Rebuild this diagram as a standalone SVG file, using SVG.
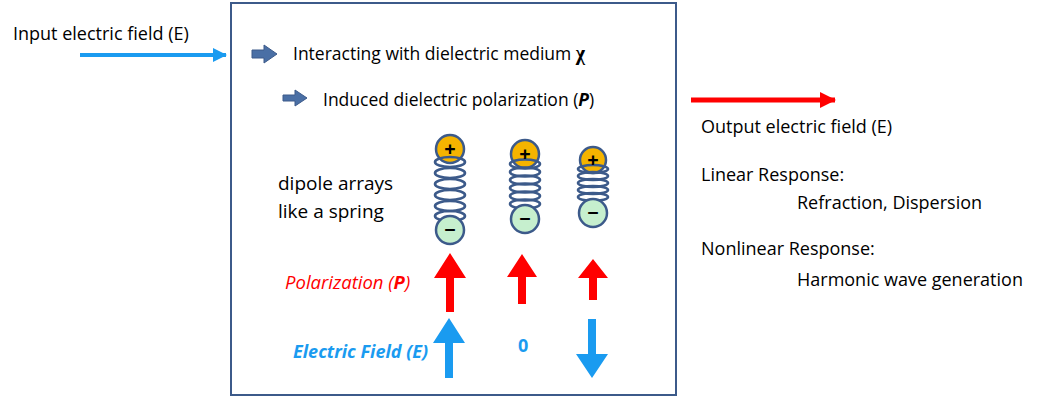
<svg xmlns="http://www.w3.org/2000/svg" width="1048" height="405" viewBox="0 0 1048 405">
<style>
text{font-family:"Open Sans","Liberation Sans",sans-serif;font-size:18px;fill:#000}
.pos{fill:#f5b400;stroke:#3c5a8a;stroke-width:2.5}
.neg{fill:#c6efce;stroke:#3c5a8a;stroke-width:2.5}
.coil{fill:none;stroke:#3c5a8a;stroke-width:2.6}
.sign{font-weight:bold;font-size:20px;text-anchor:middle}
.big{font-size:19px}
.red{fill:#ff0000;font-style:italic;font-size:18.5px}
.blue{fill:#1a9bf0;font-style:italic;font-weight:bold;font-size:18px}
</style>
<defs>
<marker id="mb" markerWidth="14" markerHeight="14" refX="13" refY="7" orient="auto" markerUnits="userSpaceOnUse" viewBox="0 0 14 14"><path d="M0,0L14,7L0,14z" fill="#1a9bf0"/></marker>
<marker id="mr" markerWidth="16" markerHeight="16" refX="15" refY="8" orient="auto" markerUnits="userSpaceOnUse" viewBox="0 0 16 16"><path d="M0,0L16,8L0,16z" fill="#ff0000"/></marker>
</defs>
<rect id="box" x="231" y="3" width="445" height="392" fill="#fff" stroke="#3c5a8a" stroke-width="2"/>
<g id="connectors">
<line x1="80" y1="55" x2="226" y2="55" stroke="#1a9bf0" stroke-width="4" marker-end="url(#mb)"/>
<line x1="691" y1="100" x2="835" y2="100" stroke="#ff0000" stroke-width="5" marker-end="url(#mr)"/>
</g>
<text x="13" y="40">Input electric field (E)</text>
<path d="M252,50h12v-5l13,9l-13,9v-5h-12z" fill="#4a6fa5" stroke="#3c5a8a"/>
<text x="293" y="60" style="font-size:17.5px">Interacting with dielectric medium <tspan font-weight="bold" style="font-family:'Liberation Serif',serif;font-size:20px">χ</tspan></text>
<path d="M283,95h12v-5l12,8l-12,8v-5h-12z" fill="#4a6fa5" stroke="#3c5a8a"/>
<text x="323" y="106" style="font-size:17.5px">Induced dielectric polarization (<tspan font-weight="bold" font-style="italic">P</tspan>)</text>
<text class="big" x="278" y="190">dipole arrays</text>
<text class="big" x="278" y="218">like a spring</text>
<g id="dipole1">
<circle class="pos" cx="450" cy="149" r="14"/>
<g class="coil"><ellipse cx="450" cy="162" rx="15" ry="5"/><ellipse cx="450" cy="173" rx="15" ry="5"/><ellipse cx="450" cy="184" rx="15" ry="5"/><ellipse cx="450" cy="195" rx="15" ry="5"/><ellipse cx="450" cy="206" rx="15" ry="5"/><ellipse cx="450" cy="216" rx="15" ry="5"/></g>
<circle class="neg" cx="450" cy="230" r="14"/>
<text class="sign" x="450" y="156">+</text><text class="sign" x="450" y="237">−</text>
</g>
<g id="dipole2">
<circle class="pos" cx="525" cy="154" r="14"/>
<g class="coil"><ellipse cx="525" cy="164" rx="15" ry="4.5"/><ellipse cx="525" cy="172" rx="15" ry="4.5"/><ellipse cx="525" cy="180" rx="15" ry="4.5"/><ellipse cx="525" cy="188" rx="15" ry="4.5"/><ellipse cx="525" cy="196" rx="15" ry="4.5"/><ellipse cx="525" cy="204" rx="15" ry="4.5"/></g>
<circle class="neg" cx="525" cy="219" r="14"/>
<text class="sign" x="525" y="161">+</text><text class="sign" x="525" y="226">−</text>
</g>
<g id="dipole3">
<circle class="pos" cx="593" cy="160" r="13"/>
<g class="coil"><ellipse cx="593" cy="169" rx="15" ry="4"/><ellipse cx="593" cy="176" rx="15" ry="4"/><ellipse cx="593" cy="183" rx="15" ry="4"/><ellipse cx="593" cy="190" rx="15" ry="4"/><ellipse cx="593" cy="197" rx="15" ry="4"/></g>
<circle class="neg" cx="593" cy="213" r="14"/>
<text class="sign" x="593" y="167">+</text><text class="sign" x="593" y="220">−</text>
</g>
<g id="arrows" fill="#ff0000">
<path d="M446,312v-34h-12l16,-25l16,25h-12v34z"/>
<path d="M518,304v-27h-11l15,-23l15,23h-11v27z"/>
<path d="M589,300v-22h-11l15,-19l15,19h-11v22z"/>
<path fill="#1a9bf0" d="M445,378v-35h-12l16,-25l16,25h-12v35z"/>
<path fill="#1a9bf0" d="M588,319v35h-12l16,24l16,-24h-12v-35z"/>
</g>
<text class="red" x="285" y="289">Polarization (<tspan font-weight="bold">P</tspan>)</text>
<text class="blue" x="293" y="358">Electric Field (E)</text>
<text x="518" y="352" style="fill:#1a9bf0;font-weight:bold;font-size:18px">0</text>
<text x="701" y="133">Output electric field (E)</text>
<text x="701" y="181">Linear Response:</text>
<text x="797" y="209">Refraction, Dispersion</text>
<text x="701" y="255">Nonlinear Response:</text>
<text x="797" y="286">Harmonic wave generation</text>
</svg>
